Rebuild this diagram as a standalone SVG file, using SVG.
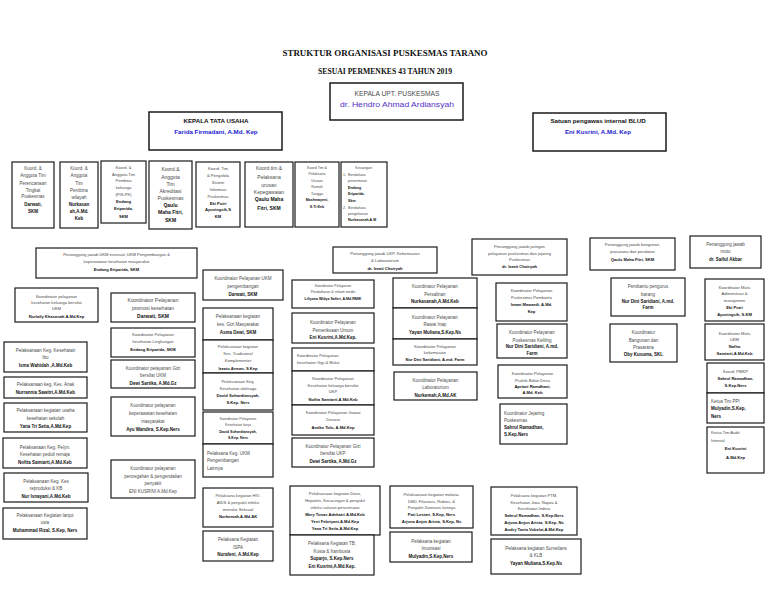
<svg xmlns="http://www.w3.org/2000/svg" width="768" height="594" viewBox="0 0 768 594">
<style>
.bx{fill:#fff;stroke:#1a1a1a;stroke-width:1.2}
.hb{fill:#fff;stroke:#1a1a1a;stroke-width:1.5}
text{font-family:"Liberation Sans",Arial,sans-serif;text-anchor:middle;fill:#4a4a4a}
.b{font-weight:bold;fill:#111}
.l{text-anchor:start}
.blue{fill:#1a1ad0;font-weight:bold}
.pur{fill:#5530c8}
.f35{font-size:3.6px}.f4{font-size:4.1px}.f45{font-size:4.5px}.f5{font-size:5px}
.ti{font-family:"Liberation Serif","Times New Roman",serif;font-weight:bold;fill:#111}
</style>
<rect width="768" height="594" fill="#fff"/>
<g id="title">
<text class="ti" x="385" y="56" font-size="9" textLength="205" lengthAdjust="spacingAndGlyphs">STRUKTUR ORGANISASI PUSKESMAS TARANO</text>
<text class="ti" x="385" y="74" font-size="8" textLength="134" lengthAdjust="spacingAndGlyphs">SESUAI PERMENKES 43 TAHUN 2019</text>
</g>
<g id="connectors"/>
<g id="kepala"><rect class="hb" x="330" y="83" width="133" height="37"/>
<text x="397" y="96" font-size="7.2" fill="#222" textLength="85" lengthAdjust="spacingAndGlyphs">KEPALA UPT. PUSKESMAS</text>
<text class="pur" x="397" y="107" font-size="7.5" textLength="114" lengthAdjust="spacingAndGlyphs">dr. Hendro Ahmad Ardiansyah</text></g>
<g id="tatausaha"><rect class="hb" x="149" y="112" width="133" height="38"/>
<text class="b" x="216" y="123" font-size="6.2">KEPALA TATA USAHA</text>
<text class="blue" x="216" y="134" font-size="6.2">Farida Firmadani, A.Md. Kep</text></g>
<g id="satuan"><rect class="hb" x="533" y="113" width="133" height="38"/>
<text class="b" x="598" y="123" font-size="6.2">Satuan pengawas internal BLUD</text>
<text class="blue" x="598" y="134" font-size="6.2">Eni Kusrini, A.Md. Kep</text></g>

<g id="k1" class="f45"><rect class="bx" x="12" y="162" width="42" height="66"/>
<text x="33" y="170">Koord. &amp;</text><text x="33" y="177">Anggota Tim</text><text x="33" y="185">Perencanaan</text><text x="33" y="192">Tingkat</text><text x="33" y="198">Puskesmas</text><text class="b" x="33" y="206">Darwati,</text><text class="b" x="33" y="213">SKM</text></g>
<g id="k2" class="f45"><rect class="bx" x="60" y="162" width="38" height="66"/>
<text x="79" y="170">Koord. &amp;</text><text x="79" y="177">Anggota</text><text x="79" y="185">Tim</text><text x="79" y="192">Pembina</text><text x="79" y="199">wilayah</text><text class="b" x="79" y="206">Nurkasan</text><text class="b" x="79" y="213">ah,A.Md.</text><text class="b" x="79" y="220">Keb</text></g>
<g id="k3" class="f4"><rect class="bx" x="101" y="161" width="45" height="62"/>
<text x="123.5" y="169">Koord. &amp;</text><text x="123.5" y="176">Anggota Tim</text><text x="123.5" y="182">Pembina</text><text x="123.5" y="189">keluarga</text><text x="123.5" y="196">(PIS-PK)</text><text class="b" x="123.5" y="203">Endang</text><text class="b" x="123.5" y="210">Eriparida,</text><text class="b" x="123.5" y="218">SKM</text></g>
<g id="k4" class="f5"><rect class="bx" x="149" y="161" width="43" height="68"/>
<text x="170.5" y="171">Koord.&amp;</text><text x="170.5" y="179">Anggota</text><text x="170.5" y="186">Tim</text><text x="170.5" y="193">Akreditasi</text><text x="170.5" y="200">Puskesmas</text><text class="b" x="170.5" y="207">Qaulu</text><text class="b" x="170.5" y="214">Maha Fitri,</text><text class="b" x="170.5" y="222">SKM</text></g>
<g id="k5" class="f4"><rect class="bx" x="196" y="162" width="44" height="65"/>
<text x="218" y="170">Koord. Tim</text><text x="218" y="177">&amp; Pengelola</text><text x="218" y="184">Sistem</text><text x="218" y="191">Informasi</text><text x="218" y="198">Puskesmas</text><text class="b" x="218" y="205">Eki Putri</text><text class="b" x="218" y="211">Ayuningsih,S</text><text class="b" x="218" y="218">KM</text></g>
<g id="k6" class="f5"><rect class="bx" x="245" y="162" width="48" height="65"/>
<text x="269" y="170">Koord.tim &amp;</text><text x="269" y="179">Pelaksana</text><text x="269" y="187">urusan</text><text x="269" y="194">Kepegawaian</text><text class="b" x="269" y="201">Qaulu Maha</text><text class="b" x="269" y="210">Fitri, SKM</text></g>
<g id="k7" class="f35"><rect class="bx" x="295" y="162" width="44" height="65"/>
<text x="317" y="169">Koord Tim &amp;</text><text x="317" y="175">Pelaksana</text><text x="317" y="182">Urusan</text><text x="317" y="188">Rumah</text><text x="317" y="195">Tangga</text><text class="b" x="317" y="201">Mashmayeni,</text><text class="b" x="317" y="208">S.Tr.Keb</text></g>
<g id="k8" class="f35"><rect class="bx" x="341" y="162" width="46" height="65"/>
<text x="364" y="169">Keuangan:</text><text class="l" x="343" y="176">1.</text><text class="l" x="348" y="176">Bendahara</text><text class="l" x="348" y="182">penerimaan</text><text class="l b" x="348" y="189">Endang</text><text class="l b" x="348" y="195">Eriparida,</text><text class="l b" x="348" y="202">Skm</text><text class="l" x="343" y="209">2.</text><text class="l" x="348" y="209">Bendahara</text><text class="l" x="348" y="215">pengeluaran</text><text class="l b" x="348" y="221">Nurkasanah,A.M</text></g>

<g id="pj-ukm" class="f4"><rect class="bx" x="36" y="248" width="161" height="30"/>
<text x="116.5" y="256">Penanggung jawab UKM esensial, UKM Pengembangan &amp;</text><text x="116.5" y="263">keperawatan kesehatan masyarakat</text><text class="b" x="116.5" y="271">Endang Eriparida, SKM</text></g>
<g id="pj-ukp" class="f4"><rect class="bx" x="333" y="247" width="104" height="26"/>
<text x="385" y="255">Penanggung jawab UKP, Kefarmasian</text><text x="385" y="262">&amp; Laboratorium</text><text class="b" x="385" y="270">dr. Izzati Choiryah</text></g>
<g id="pj-jaringan" class="f4"><rect class="bx" x="472" y="239" width="95" height="36"/>
<text x="519.5" y="248">Penanggung jawab jaringan</text><text x="519.5" y="255">pelayanan puskesmas dan jejaring</text><text x="519.5" y="261">Puskesmas</text><text class="b" x="519.5" y="268">dr. Izzati Choiryah</text></g>
<g id="pj-bangunan" class="f4"><rect class="bx" x="590" y="238" width="85" height="32"/>
<text x="632.5" y="246">Penanggung jawab bangunan,</text><text x="632.5" y="253">prasarana dan peralatan</text><text class="b" x="632.5" y="261">Qaulu Maha Fitri, SKM</text></g>
<g id="pj-mutu" class="f45"><rect class="bx" x="690" y="236" width="71" height="32"/>
<text x="725.5" y="246">Penanggung jawab</text><text x="725.5" y="253">mutu</text><text class="b" x="725.5" y="261">dr. Saiful Akbar</text></g>

<g id="l1" class="f4"><rect class="bx" x="15" y="288" width="83" height="34"/>
<text x="56.5" y="298">Koordinator pelayanan</text><text x="56.5" y="304">kesehatan keluarga bersifat</text><text x="56.5" y="310">UKM</text><text class="b" x="56.5" y="318">Nurlaily Khasanah A.Md.Kep</text></g>
<g id="l2" class="f45"><rect class="bx" x="4" y="342" width="83" height="30"/>
<text x="45.5" y="352">Pelaksanaan Keg. Kesehatan</text><text x="45.5" y="359">Ibu</text><text class="b" x="45.5" y="367">Isma Wahidah ,A.Md.Keb</text></g>
<g id="l3" class="f45"><rect class="bx" x="4" y="377" width="83" height="21"/>
<text x="45.5" y="386">Pelaksanaan keg. Kes. Anak</text><text class="b" x="45.5" y="394">Nurrannia Sawitri,A.Md.Keb</text></g>
<g id="l4" class="f45"><rect class="bx" x="4" y="403" width="83" height="29"/>
<text x="45.5" y="412">Pelaksanaan kegiatan usaha</text><text x="45.5" y="420">kesehatan sekolah</text><text class="b" x="45.5" y="428">Yana Tri Setia,A.Md.Kep</text></g>
<g id="l5" class="f45"><rect class="bx" x="3" y="438" width="84" height="30"/>
<text x="45" y="449">Pelaksanaan Keg. Pelyn.</text><text x="45" y="456">Kesehatan peduli remaja</text><text class="b" x="45" y="464">Nofita Samiarti,A.Md.Keb</text></g>
<g id="l6" class="f45"><rect class="bx" x="4" y="473" width="84" height="29"/>
<text x="46" y="483">Pelaksanaan Keg. Kes</text><text x="46" y="490">reproduksi &amp; KB</text><text class="b" x="46" y="498">Nur Isnayani,A.Md.Keb</text></g>
<g id="l7" class="f45"><rect class="bx" x="3" y="508" width="84" height="31"/>
<text x="45" y="517">Pelaksanaan Kegiatan lanjut</text><text x="45" y="524">usia</text><text class="b" x="45" y="532">Muhammad Rizal, S.Kep, Ners</text></g>

<g id="c2a" class="f5"><rect class="bx" x="111" y="293" width="84" height="29"/>
<text x="153" y="302">Koordinator Pelayanan</text><text x="153" y="310">promosi kesehatan</text><text class="b" x="153" y="318">Darwati, SKM</text></g>
<g id="c2b" class="f4"><rect class="bx" x="111" y="328" width="84" height="29"/>
<text x="153" y="336">Koordinator Pelayanan</text><text x="153" y="343">kesehatan Lingkungan</text><text class="b" x="153" y="351">Endang Eriparida, SKM</text></g>
<g id="c2c" class="f45"><rect class="bx" x="111" y="360" width="84" height="28"/>
<text x="153" y="370">Koordinator pelayanan Gizi</text><text x="153" y="377">bersifat UKM</text><text class="b" x="153" y="385">Dewi Sartika, A.Md.Gz</text></g>
<g id="c2d" class="f45"><rect class="bx" x="111" y="397" width="84" height="39"/>
<text x="153" y="407">Koordinator pelayanan</text><text x="153" y="415">keperawatan kesehatan</text><text x="153" y="423">masyarakat</text><text class="b" x="153" y="431">Ayu Wandira, S.Kep.Ners</text></g>
<g id="c2e" class="f45"><rect class="bx" x="111" y="460" width="84" height="38"/>
<text x="153" y="470">Koordinator pelayanan</text><text x="153" y="478">pencegahan &amp; pengendalian</text><text x="153" y="485">penyakit</text><text x="153" y="493">ENI KUSRINI A.Md.Kep</text></g>

<g id="c3a" class="f45"><rect class="bx" x="203" y="270" width="80" height="30"/>
<text x="243" y="280">Koordinator Pelayanan UKM</text><text x="243" y="288">pengembangan</text><text class="b" x="243" y="296">Darwati, SKM</text></g>
<g id="c3b" class="f45"><rect class="bx" x="203" y="308" width="70" height="32"/>
<text x="238" y="318">Pelaksanaan kegiatan</text><text x="238" y="326">kes. Gizi Masyarakat</text><text class="b" x="238" y="334">Asma Dewi, SKM</text></g>
<g id="c3c" class="f4"><rect class="bx" x="203" y="340" width="70" height="33"/>
<text x="238" y="348">Pelaksanaan kegiatan</text><text x="238" y="355">Kes. Tradisional</text><text x="238" y="362">Komplementer</text><text class="b" x="238" y="369.5">Izzatu Arman, S.Kep</text></g>
<g id="c3d" class="f4"><rect class="bx" x="203" y="373" width="70" height="37"/>
<text x="238" y="383">Pelaksanaan Keg.</text><text x="238" y="390">Kesehatan olahraga</text><text class="b" x="238" y="397">David Suhardiansyah,</text><text class="b" x="238" y="404">S.Kep. Ners</text></g>
<g id="c3e" class="f35"><rect class="bx" x="203" y="412" width="70" height="32"/>
<text x="238" y="420">Koordinator Pelayanan</text><text x="238" y="426">Kesehatan kerja</text><text class="b" x="238" y="433">David Suhardiansyah,</text><text class="b" x="238" y="439">S.Kep. Ners</text></g>
<g id="c3f" class="f45"><rect class="bx" x="203" y="444" width="70" height="33"/>
<text class="l" x="207" y="455">Pelaksana Keg. UKM</text><text class="l" x="207" y="462">Pengembangan</text><text class="l" x="207" y="470">Lainnya</text></g>
<g id="c3g" class="f4"><rect class="bx" x="203" y="488" width="70" height="39"/>
<text x="238" y="497">Pelaksana kegiatan HIV-</text><text x="238" y="504">AIDS &amp; penyakit infeksi</text><text x="238" y="511">menular Seksual</text><text class="b" x="238" y="518">Nurkemah,A.Md.AK</text></g>
<g id="c3h" class="f45"><rect class="bx" x="203" y="531" width="70" height="30"/>
<text x="238" y="541">Pelaksana Kegiatan</text><text x="238" y="549">ISPA</text><text class="b" x="238" y="556">Nurafeni, A.Md.Kep</text></g>

<g id="c4a" class="f35"><rect class="bx" x="292" y="280" width="82" height="28"/>
<text x="333" y="287">Koordinator Pelayanan</text><text x="333" y="293">Pendaftaran &amp; rekam medis</text><text class="b" x="333" y="300">Liliyana Widya Safitri, A.Md.RMIK</text></g>
<g id="c4b" class="f45"><rect class="bx" x="292" y="313" width="82" height="30"/>
<text x="333" y="324">Koordinator Pelayanan</text><text x="333" y="332">Pemeriksaan Umum</text><text class="b" x="333" y="339">Eni Kusrini,A.Md.Kep.</text></g>
<g id="c4c" class="f4"><rect class="bx" x="292" y="348" width="82" height="23"/>
<text class="l" x="297" y="357">Koordinator Pelayanan</text><text class="l" x="297" y="364">kesehatan Gigi &amp; Mulut</text></g>
<g id="c4d" class="f4"><rect class="bx" x="292" y="371" width="82" height="34"/>
<text x="333" y="380">Koordinator Pelayanan</text><text x="333" y="387">Kesehatan  keluarga bersifat</text><text x="333" y="393">UKP</text><text class="b" x="333" y="401">Nofita Samiarti,A.Md.Keb</text></g>
<g id="c4e" class="f4"><rect class="bx" x="292" y="405" width="82" height="30"/>
<text x="333" y="414">Koordinator Pelayanan Gawat</text><text x="333" y="421">Darurat</text><text class="b" x="333" y="429">Amiko Tolo, A.Md.Kep</text></g>
<g id="c4f" class="f45"><rect class="bx" x="292" y="438" width="82" height="29"/>
<text x="333" y="448">Koordinator Pelayanan Gizi</text><text x="333" y="455">bersifat UKP</text><text class="b" x="333" y="463">Dewi Sartika, A.Md.Gz</text></g>
<g id="c4g" class="f4"><rect class="bx" x="290" y="486" width="90" height="49"/>
<text x="335" y="495">Pelaksanaan kegiatan Diare,</text><text x="335" y="502">Hepatitis, Kecacingan &amp; penyakit</text><text x="335" y="509">infeksi saluran pencernaan</text><text class="b" x="335" y="516">Mery Tunas Adekatri A.Md.Keb</text><text class="b" x="335" y="523">Yeni Febriyani,A.Md.Kep</text><text class="b" x="335" y="530">Yana Tri Setia,A.Md.Kep</text></g>
<g id="c4h" class="f45"><rect class="bx" x="290" y="535" width="84" height="40"/>
<text x="332" y="545">Pelaksana Kegiatan TB,</text><text x="332" y="553">Kusta &amp; frambusia</text><text class="b" x="332" y="560">Suparjo, S.Kep.Ners</text><text class="b" x="332" y="568">Eni Kusrini,A.Md.Kep.</text></g>

<g id="c5a" class="f45"><rect class="bx" x="393" y="278" width="84" height="30"/>
<text x="435" y="288">Koordinator Pelayanan</text><text x="435" y="296">Persalinan</text><text class="b" x="435" y="303">Nurkasanah,A.Md.Keb</text></g>
<g id="c5b" class="f45"><rect class="bx" x="393" y="308" width="84" height="31"/>
<text x="435" y="319">Koordinator Pelayanan</text><text x="435" y="326">Rawat Inap</text><text class="b" x="435" y="334">Yayan Muliana,S.Kep.Ns</text></g>
<g id="c5c" class="f4"><rect class="bx" x="393" y="339" width="84" height="26"/>
<text x="435" y="348">Koordinator Pelayanan</text><text x="435" y="354">kefarmasian</text><text class="b" x="435" y="361">Nur Dini Saridiani, A.md. Farm</text></g>
<g id="c5d" class="f45"><rect class="bx" x="394" y="372" width="83" height="28"/>
<text x="435.5" y="382">Koordinator Pelayanan</text><text x="435.5" y="389">Laboratorium</text><text class="b" x="435.5" y="397">Nurkemah,A.Md.AK</text></g>
<g id="c5e" class="f4"><rect class="bx" x="390" y="486" width="83" height="42"/>
<text x="431.5" y="496">Pelaksanaan kegiatan malaria,</text><text x="431.5" y="503">DBD, Filariasis, Rabies, &amp;</text><text x="431.5" y="509">Penyakit Zoonosis lainnya</text><text class="b" x="431.5" y="516">Pati Lestari, S.Kep, Ners</text><text class="b" x="431.5" y="523">Arjuna Anjun Arista, S.Kep, Ns</text></g>
<g id="c5f" class="f45"><rect class="bx" x="390" y="532" width="82" height="30"/>
<text x="431" y="543">Pelaksana kegiatan</text><text x="431" y="550">Imunisasi</text><text class="b" x="431" y="558">Mulyadin,S.Kep,Ners</text></g>

<g id="c6a" class="f4"><rect class="bx" x="496" y="283" width="71" height="38"/>
<text x="531.5" y="292">Koordinator Pelayanan</text><text x="531.5" y="299">Puskesmas Pembantu</text><text class="b" x="531.5" y="306">Imam Mawardi, A.Md.</text><text class="b" x="531.5" y="313">Kep</text></g>
<g id="c6b" class="f45"><rect class="bx" x="497" y="324" width="70" height="34"/>
<text x="532" y="334">Koordinator Pelayanan</text><text x="532" y="342">Puskesmas Keliling</text><text class="b" x="532" y="348">Nur Dini Saridiani, A.md.</text><text class="b" x="532" y="355">Farm</text></g>
<g id="c6c" class="f4"><rect class="bx" x="498" y="365" width="69" height="33"/>
<text x="532.5" y="375">Koordinator Pelayanan</text><text x="532.5" y="382">Praktik Bidan Desa</text><text class="b" x="532.5" y="388">Apriani Ramdhani,</text><text class="b" x="532.5" y="394">A.Md. Keb</text></g>
<g id="c6d" class="f45"><rect class="bx" x="500" y="404" width="67" height="40"/>
<text class="l" x="504" y="415">Koordinator Jejaring</text><text class="l" x="504" y="422">Puskesmas</text><text class="l b" x="504" y="429">Sahrul Ramadhan,</text><text class="l b" x="504" y="436">S.Kep.Ners</text></g>
<g id="c6e" class="f4"><rect class="bx" x="491" y="487" width="86" height="48"/>
<text x="534" y="497">Pelaksana kegiatan PTM,</text><text x="534" y="504">Kesehatan Jiwa, Napza &amp;</text><text x="534" y="510">Kesehatan Indera</text><text class="b" x="534" y="517">Sahrul Ramadhan, S.Kep.Ners</text><text class="b" x="534" y="524">Arjuna Anjun Arista, S.Kep, Ns</text><text class="b" x="534" y="531">Andry Tania Vobelai,A.Md.Kep</text></g>
<g id="c6f" class="f45"><rect class="bx" x="491" y="539" width="90" height="35"/>
<text x="536" y="550">Pelaksana kegiatan Surveilans</text><text x="536" y="557">&amp; KLB</text><text class="b" x="536" y="565">Yayan Muliana,S.Kep.Ns</text></g>

<g id="c7a" class="f45"><rect class="bx" x="611" y="278" width="74" height="38"/>
<text x="648" y="288">Pembantu pengurus</text><text x="648" y="296">barang</text><text class="b" x="648" y="303">Nur Dini Saridiani, A.md.</text><text class="b" x="648" y="309">Farm</text></g>
<g id="c7b" class="f45"><rect class="bx" x="610" y="324" width="67" height="38"/>
<text x="643.5" y="334">Koordinator</text><text x="643.5" y="342">Bangunan dan</text><text x="643.5" y="349">Prasarana</text><text class="b" x="643.5" y="356">Oby Kusuma, SKL</text></g>

<g id="c8a" class="f4"><rect class="bx" x="705" y="279" width="59" height="42"/>
<text x="734.5" y="289">Koordinator Mutu</text><text x="734.5" y="295">Administrasi &amp;</text><text x="734.5" y="302">manajemen</text><text class="b" x="734.5" y="309">Eki Putri</text><text class="b" x="734.5" y="316">Ayuningsih, S.KM</text></g>
<g id="c8b" class="f4"><rect class="bx" x="705" y="324" width="59" height="36"/>
<text x="734.5" y="335">Koordinator Mutu</text><text x="734.5" y="341">UKM</text><text class="b" x="734.5" y="348">Nafita</text><text class="b" x="734.5" y="355">Samiarti,A.Md.Keb</text></g>
<g id="c8c" class="f4"><rect class="bx" x="707" y="363" width="57" height="30"/>
<text x="735.5" y="373">Koord. PMKP</text><text class="b" x="735.5" y="380">Sahrul Ramadhan,</text><text class="b" x="735.5" y="387">S.Kep.Ners</text></g>
<g id="c8d" class="f45"><rect class="bx" x="707" y="393" width="57" height="30"/>
<text class="l" x="711" y="403">Ketua Tim PPI</text><text class="l b" x="711" y="410">Mulyadin,S.Kep,</text><text class="l b" x="711" y="418">Ners</text></g>
<g id="c8e" class="f4"><rect class="bx" x="707" y="427" width="57" height="46"/>
<text class="l" x="711" y="434">Ketua Tim Audit</text><text class="l" x="711" y="442">Internal</text><text class="b" x="735.5" y="450">Eni Kusrini</text><text class="b" x="735.5" y="459">A.Md.Kep</text></g>
</svg>
